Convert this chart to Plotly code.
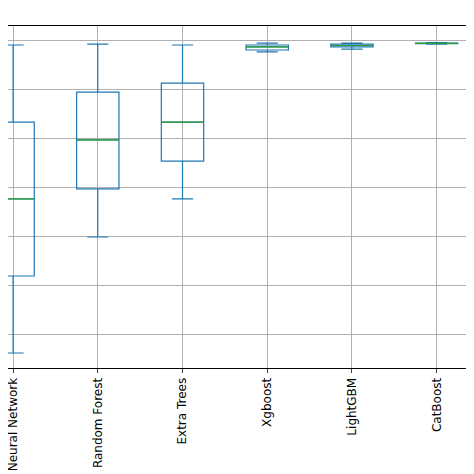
import plotly.graph_objects as go

models = ['Neural Network', 'Random Forest', 'Extra Trees', 'Xgboost', 'LightGBM', 'CatBoost']
lower = [0.6306, 0.7490, 0.7878, 0.9378, 0.9408, 0.9459]
q1 = [0.7092, 0.7980, 0.8265, 0.9398, 0.9429, 0.9462]
median = [0.7878, 0.8480, 0.8663, 0.9429, 0.9444, 0.9466]
q3 = [0.8663, 0.8969, 0.9061, 0.9449, 0.9459, 0.9469]
upper = [0.9449, 0.9459, 0.9449, 0.9469, 0.9469, 0.9474]

fig = go.Figure()
for i, m in enumerate(models):
  fig.add_trace(go.Box(x=[i], q1=[q1[i]], median=[median[i]], q3=[q3[i]],
                       lowerfence=[lower[i]], upperfence=[upper[i]],
                       width=0.5, whiskerwidth=0.5,
                       line=dict(color='#1f77b4', width=1.2),
                       fillcolor='rgba(0,0,0,0)', name=m, showlegend=False,
                       hoverinfo='skip'))
  # green median line like matplotlib
  fig.add_trace(go.Scatter(x=[i - 0.25, i + 0.25], y=[median[i], median[i]],
                           mode='lines', line=dict(color='#2ca02c', width=1.2),
                           showlegend=False, hoverinfo='skip'))

fig.update_layout(
  width=474, height=474, plot_bgcolor='white', paper_bgcolor='white',
  margin=dict(l=0, r=3, t=18, b=114, autoexpand=False),
  font=dict(family='DejaVu Sans', size=12, color='black'),
)
fig.update_xaxes(range=[-0.06, 5.5], tickvals=list(range(len(models))), ticktext=models,
                 tickangle=-90, showgrid=True, gridcolor='#b0b0b0', gridwidth=1,
                 showline=True, linecolor='black', mirror=True, ticks='outside',
                 ticklen=4, zeroline=False, automargin=False, ticklabeloverflow='allow')
fig.update_yaxes(range=[0.6153, 0.9643], tickvals=[0.65, 0.70, 0.75, 0.80, 0.85, 0.90, 0.95],
                 showticklabels=False, showgrid=True, gridcolor='#b0b0b0', gridwidth=1,
                 showline=True, linecolor='black', mirror=True, zeroline=False,
                 automargin=False)

fig.write_html("out.html")
